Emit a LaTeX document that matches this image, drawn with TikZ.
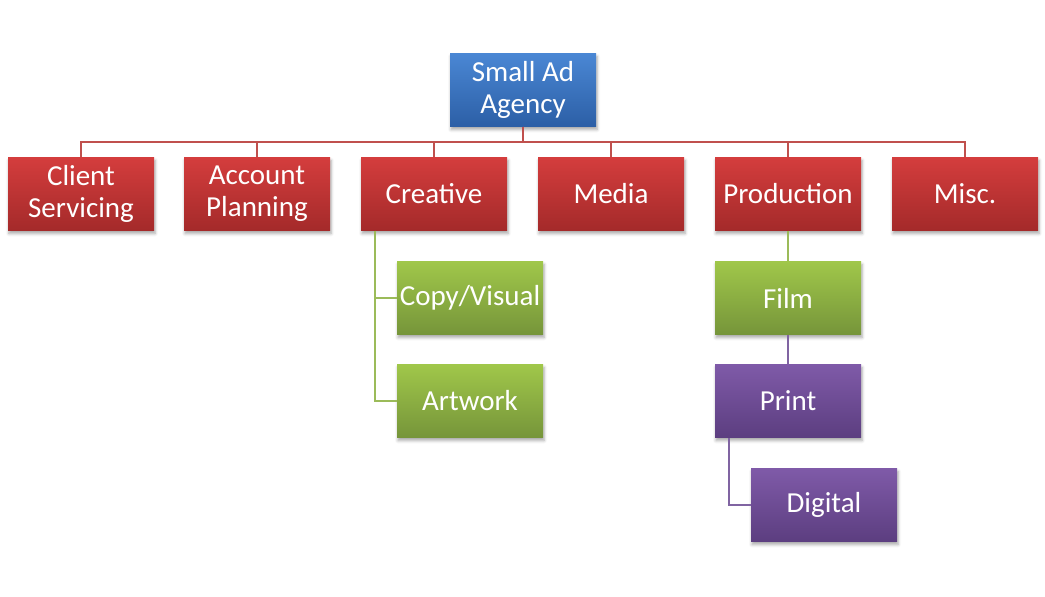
\documentclass[tikz,border=0pt]{standalone}
\usepackage{fontspec}
\setmainfont{Carlito}
\usetikzlibrary{shadows.blur}
\definecolor{bluetop}{HTML}{4A87D4}
\definecolor{bluebot}{HTML}{2C5FA6}
\definecolor{redtop}{HTML}{D43D3D}
\definecolor{redbot}{HTML}{A42A2A}
\definecolor{greentop}{HTML}{A0C74A}
\definecolor{greenbot}{HTML}{76953A}
\definecolor{purpletop}{HTML}{7F5AA8}
\definecolor{purplebot}{HTML}{5C3E80}
\definecolor{redline}{HTML}{C0504D}
\definecolor{greenline}{HTML}{9BBB59}
\definecolor{purpleline}{HTML}{8064A2}
\tikzstyle{unit} = [rectangle, minimum width=146pt, minimum height=73pt, inner sep=0pt, text=white, align=center, font=\fontsize{29}{32}\selectfont, blur shadow={shadow xshift=1pt, shadow yshift=-3pt, shadow blur radius=3pt, shadow opacity=35}]
\tikzstyle{headbox} = [unit, top color=bluetop, bottom color=bluebot]
\tikzstyle{deptbox} = [unit, top color=redtop, bottom color=redbot]
\tikzstyle{subbox} = [unit, top color=greentop, bottom color=greenbot]
\tikzstyle{mediabox} = [unit, top color=purpletop, bottom color=purplebot]
\tikzstyle{link} = [line width=2.2pt]

\begin{document}
\begin{tikzpicture}[x=1pt,y=-1pt]
\useasboundingbox (0,0) rectangle (1045,597);
\node [headbox] (agency) at (523,90) {Small Ad\\Agency};
\node [deptbox] (cs) at (81,194) {Client\\Servicing};
\node [deptbox] (ap) at (257,194) {Account\\Planning};
\node [deptbox] (cr) at (434,194) {Creative};
\node [deptbox] (me) at (611,194) {Media};
\node [deptbox] (pr) at (788,194) {Production};
\node [deptbox] (mi) at (965,194) {Misc.};
\node [subbox] (cv) at (470,298) {Copy/Visual};
\node [subbox] (aw) at (470,401) {Artwork};
\node [subbox] (fi) at (788,298) {Film};
\node [mediabox] (pt) at (788,401) {Print};
\node [mediabox] (di) at (824,505) {Digital};
% departments
\foreach \d in {cs,ap,cr,me,pr,mi}
  \draw [link, redline] (agency.south) -- ++(0,15) -| (\d.north);
% creative
\draw [link, greenline] ([xshift=14pt]cr.south west) |- (cv.west);
\draw [link, greenline] ([xshift=14pt]cr.south west) |- (aw.west);
% production
\draw [link, greenline] (pr.south) -- (fi.north);
\draw [link, purpleline] (fi.south) -- (pt.north);
\draw [link, purpleline] ([xshift=14pt]pt.south west) |- (di.west);
\end{tikzpicture}
\end{document}
